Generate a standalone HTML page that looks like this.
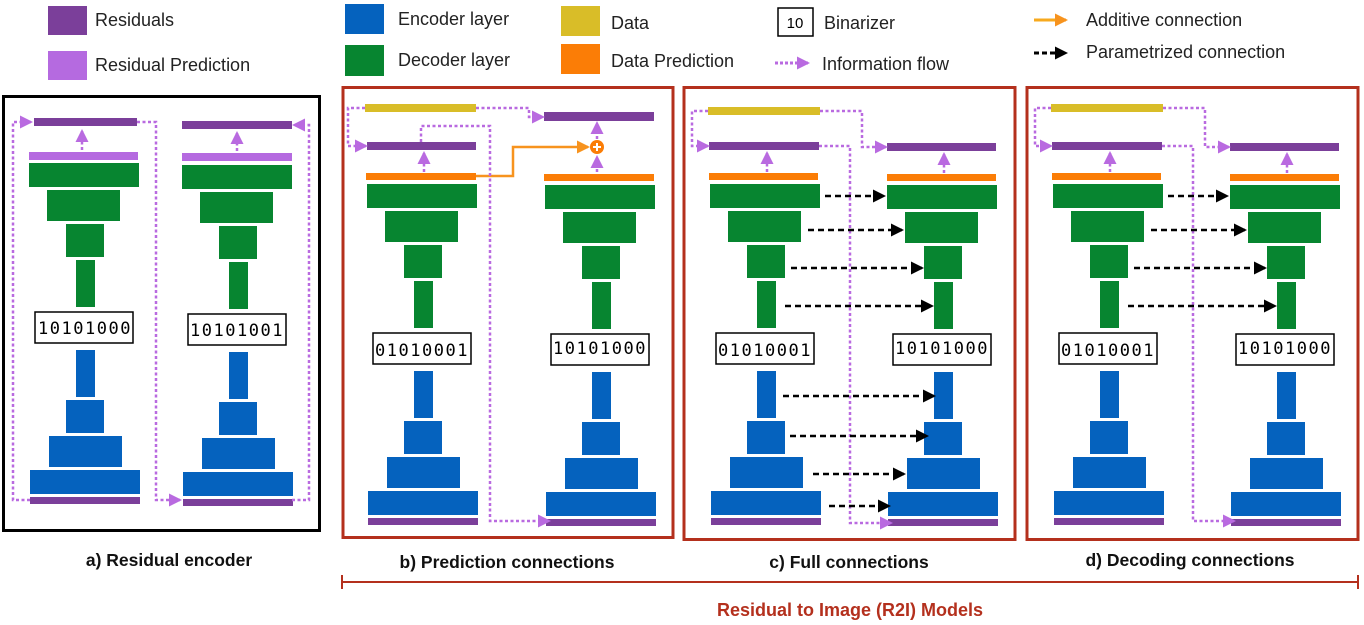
<!DOCTYPE html>
<html><head><meta charset="utf-8"><style>
body{margin:0;background:#fff;}
svg{display:block;font-family:"Liberation Sans",sans-serif;}
.bin{font-family:"DejaVu Sans Mono","Liberation Mono",monospace;font-size:17px;letter-spacing:1.5px;}
.lg{font-size:18px;fill:#222;}
.cap{font-size:17.5px;font-weight:bold;fill:#111;}
</style></head><body>
<svg width="1364" height="625" viewBox="0 0 1364 625" xmlns="http://www.w3.org/2000/svg">
<defs>
<g id="col">
<rect x="0" y="0" width="110" height="24" fill="#078530"/>
<rect x="18" y="27" width="73" height="31" fill="#078530"/>
<rect x="37" y="61" width="38" height="33" fill="#078530"/>
<rect x="47" y="97" width="19" height="47" fill="#078530"/>
<rect x="6" y="149" width="98" height="31" fill="#fff" stroke="#000" stroke-width="1.5"/>
<rect x="47" y="187" width="19" height="47" fill="#0562be"/>
<rect x="37" y="237" width="38" height="33" fill="#0562be"/>
<rect x="20" y="273" width="73" height="31" fill="#0562be"/>
<rect x="1" y="307" width="110" height="24" fill="#0562be"/>
<rect x="1" y="334" width="110" height="7" fill="#7b3f9a"/>
</g>
<marker id="pa" markerWidth="13" markerHeight="13" refX="11" refY="6.5" orient="auto" markerUnits="userSpaceOnUse"><path d="M0,0 L13,6.5 L0,13z" fill="#b96ae0"/></marker>
<marker id="ba" markerWidth="13" markerHeight="13" refX="11" refY="6.5" orient="auto" markerUnits="userSpaceOnUse"><path d="M0,0 L13,6.5 L0,13z" fill="#000"/></marker>
<marker id="oa" markerWidth="13" markerHeight="13" refX="11" refY="6.5" orient="auto" markerUnits="userSpaceOnUse"><path d="M0,0 L13,6.5 L0,13z" fill="#f7931e"/></marker>
</defs>

<!-- legend -->
<rect x="48" y="6" width="39" height="29" fill="#7b3f9a"/><text class="lg" x="95" y="26">Residuals</text>
<rect x="48" y="51" width="39" height="29" fill="#b56ae0"/><text class="lg" x="95" y="71">Residual Prediction</text>
<rect x="345" y="4" width="39" height="30" fill="#0562be"/><text class="lg" x="398" y="25">Encoder layer</text>
<rect x="345" y="45" width="39" height="31" fill="#078530"/><text class="lg" x="398" y="66">Decoder layer</text>
<rect x="561" y="6" width="39" height="30" fill="#d9bd28"/><text class="lg" x="611" y="29">Data</text>
<rect x="561" y="44" width="39" height="30" fill="#fb7d06"/><text class="lg" x="611" y="67">Data Prediction</text>
<rect x="778" y="8" width="35" height="28" fill="#fff" stroke="#000" stroke-width="1.5"/><text x="795" y="28" text-anchor="middle" style="font-size:15px">10</text><text class="lg" x="824" y="29">Binarizer</text>
<line x1="775" y1="63" x2="808" y2="63" stroke="#b96ae0" stroke-width="3" stroke-dasharray="3,2" marker-end="url(#pa)"/><text class="lg" x="822" y="70">Information flow</text>
<line x1="1034" y1="20" x2="1066" y2="20" stroke="#f7a91e" stroke-width="3" marker-end="url(#oa)"/><text class="lg" x="1086" y="26">Additive connection</text>
<line x1="1034" y1="53" x2="1066" y2="53" stroke="#000" stroke-width="3" stroke-dasharray="5,3" marker-end="url(#ba)"/><text class="lg" x="1086" y="58">Parametrized connection</text>

<!-- panel a -->
<rect x="3.5" y="96.5" width="316" height="434" fill="none" stroke="#000" stroke-width="3"/>
<use href="#col" x="29" y="163"/><use href="#col" x="182" y="165"/>
<rect x="29" y="152" width="109" height="8" fill="#b56ae0"/>
<rect x="182" y="153" width="110" height="8" fill="#b56ae0"/>
<rect x="34" y="118" width="103" height="8" fill="#7b3f9a"/>
<rect x="182" y="121" width="110" height="8" fill="#7b3f9a"/>
<text class="bin" x="85" y="334" text-anchor="middle">10101000</text>
<text class="bin" x="237" y="336" text-anchor="middle">10101001</text>
<g fill="none" stroke="#b96ae0" stroke-width="2.5" stroke-dasharray="3,2.5">
<line x1="82" y1="150" x2="82" y2="131" marker-end="url(#pa)"/>
<line x1="237" y1="151" x2="237" y2="133" marker-end="url(#pa)"/>
<polyline points="30,500 13,500 13,122 31,122" marker-end="url(#pa)"/>
<polyline points="137,122 156,122 156,500 180,500" marker-end="url(#pa)"/>
<polyline points="292,500 309,500 309,125 294,125" marker-end="url(#pa)"/>
</g>

<!-- panel b -->
<rect x="343" y="87.5" width="330" height="450" fill="none" stroke="#b4301d" stroke-width="3"/>
<use href="#col" x="367" y="184"/><use href="#col" x="545" y="185"/>
<rect x="365" y="104" width="111" height="8" fill="#d9bd28"/>
<rect x="367" y="142" width="109" height="8" fill="#7b3f9a"/>
<rect x="366" y="173" width="110" height="7" fill="#fb7d06"/>
<rect x="544" y="112" width="110" height="9" fill="#7b3f9a"/>
<rect x="544" y="174" width="110" height="7" fill="#fb7d06"/>
<text class="bin" x="422" y="356" text-anchor="middle">01010001</text>
<text class="bin" x="600" y="354" text-anchor="middle">10101000</text>
<polyline points="476,176 513,176 513,147 588,147" fill="none" stroke="#f7931e" stroke-width="2.5" marker-end="url(#oa)"/>
<circle cx="597" cy="147" r="7" fill="#fb7d06"/>
<path d="M593,147h8M597,143v8" stroke="#fff" stroke-width="2"/>
<g fill="none" stroke="#b96ae0" stroke-width="2.5" stroke-dasharray="3,2.5">
<line x1="424" y1="172" x2="424" y2="153" marker-end="url(#pa)"/>
<line x1="597" y1="172" x2="597" y2="157" marker-end="url(#pa)"/>
<line x1="597" y1="139" x2="597" y2="123" marker-end="url(#pa)"/>
<polyline points="365,108 348,108 348,146 366,146" marker-end="url(#pa)"/>
<polyline points="476,108 529,108 529,117 543,117" marker-end="url(#pa)"/>
<polyline points="421,142 421,126 490,126 490,521 549,521" marker-end="url(#pa)"/>
</g>

<!-- panel c -->
<rect x="684" y="87.5" width="331" height="452" fill="none" stroke="#b4301d" stroke-width="3"/>
<use href="#col" x="710" y="184"/><use href="#col" x="887" y="185"/>
<rect x="708" y="107" width="112" height="8" fill="#d9bd28"/>
<rect x="709" y="142" width="110" height="8" fill="#7b3f9a"/>
<rect x="709" y="173" width="109" height="7" fill="#fb7d06"/>
<rect x="887" y="143" width="109" height="8" fill="#7b3f9a"/>
<rect x="887" y="174" width="109" height="7" fill="#fb7d06"/>
<text class="bin" x="765" y="356" text-anchor="middle">01010001</text>
<text class="bin" x="942" y="354" text-anchor="middle">10101000</text>
<g fill="none" stroke="#b96ae0" stroke-width="2.5" stroke-dasharray="3,2.5">
<line x1="767" y1="172" x2="767" y2="153" marker-end="url(#pa)"/>
<line x1="944" y1="173" x2="944" y2="154" marker-end="url(#pa)"/>
<polyline points="708,111 692,111 692,146 708,146" marker-end="url(#pa)"/>
<polyline points="820,111 862,111 862,147 886,147" marker-end="url(#pa)"/>
<polyline points="819,146 850,146 850,523 891,523" marker-end="url(#pa)"/>
</g>
<g stroke="#000" stroke-width="2.5" stroke-dasharray="6,4" marker-end="url(#ba)">
<line x1="825" y1="196" x2="884" y2="196"/>
<line x1="808" y1="230" x2="902" y2="230"/>
<line x1="791" y1="268" x2="922" y2="268"/>
<line x1="785" y1="306" x2="932" y2="306"/>
<line x1="783" y1="396" x2="934" y2="396"/>
<line x1="790" y1="436" x2="927" y2="436"/>
<line x1="813" y1="474" x2="904" y2="474"/>
<line x1="829" y1="506" x2="889" y2="506"/>
</g>

<!-- panel d -->
<rect x="1027" y="87.5" width="331" height="452" fill="none" stroke="#b4301d" stroke-width="3"/>
<use href="#col" x="1053" y="184"/><use href="#col" x="1230" y="185"/>
<rect x="1051" y="104" width="112" height="8" fill="#d9bd28"/>
<rect x="1052" y="142" width="110" height="8" fill="#7b3f9a"/>
<rect x="1052" y="173" width="109" height="7" fill="#fb7d06"/>
<rect x="1230" y="143" width="109" height="8" fill="#7b3f9a"/>
<rect x="1230" y="174" width="109" height="7" fill="#fb7d06"/>
<text class="bin" x="1108" y="356" text-anchor="middle">01010001</text>
<text class="bin" x="1285" y="354" text-anchor="middle">10101000</text>
<g fill="none" stroke="#b96ae0" stroke-width="2.5" stroke-dasharray="3,2.5">
<line x1="1110" y1="172" x2="1110" y2="153" marker-end="url(#pa)"/>
<line x1="1287" y1="173" x2="1287" y2="154" marker-end="url(#pa)"/>
<polyline points="1051,108 1035,108 1035,146 1051,146" marker-end="url(#pa)"/>
<polyline points="1163,108 1205,108 1205,147 1229,147" marker-end="url(#pa)"/>
<polyline points="1162,146 1193,146 1193,521 1234,521" marker-end="url(#pa)"/>
</g>
<g stroke="#000" stroke-width="2.5" stroke-dasharray="6,4" marker-end="url(#ba)">
<line x1="1168" y1="196" x2="1227" y2="196"/>
<line x1="1151" y1="230" x2="1245" y2="230"/>
<line x1="1134" y1="268" x2="1265" y2="268"/>
<line x1="1128" y1="306" x2="1275" y2="306"/>
</g>

<!-- captions -->
<text class="cap" x="169" y="566" text-anchor="middle">a) Residual encoder</text>
<text class="cap" x="507" y="568" text-anchor="middle">b) Prediction connections</text>
<text class="cap" x="849" y="568" text-anchor="middle">c) Full connections</text>
<text class="cap" x="1190" y="566" text-anchor="middle">d) Decoding connections</text>
<path d="M342,575v14M342,582H1358M1358,575v14" stroke="#b4301d" stroke-width="2" fill="none"/>
<text x="850" y="616" text-anchor="middle" style="font-size:18px;font-weight:bold;fill:#b4301d">Residual to Image (R2I) Models</text>
</svg>
</body></html>
